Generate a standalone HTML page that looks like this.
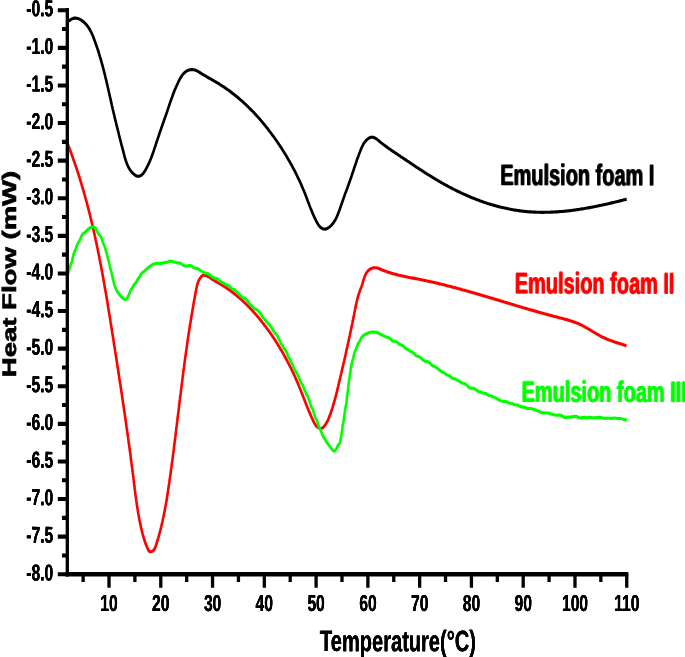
<!DOCTYPE html><html><head><meta charset="utf-8"><title>DSC thermogram</title>
<style>html,body{margin:0;padding:0;background:#fff}svg{display:block}text{font-family:"Liberation Sans",sans-serif;font-weight:bold;text-rendering:geometricPrecision}</style></head><body>
<svg width="685" height="657" viewBox="0 0 685 657">
<rect width="685" height="657" fill="#fff"/>
<defs>
<filter id="bx" filterUnits="userSpaceOnUse" x="0" y="0" width="685" height="657"><feOffset in="SourceGraphic" dx="0.22" result="a"/><feOffset in="SourceGraphic" dx="-0.22" result="b"/><feMerge><feMergeNode in="a"/><feMergeNode in="b"/><feMergeNode in="SourceGraphic"/></feMerge></filter>
<filter id="bx2" filterUnits="userSpaceOnUse" x="0" y="0" width="685" height="657"><feOffset in="SourceGraphic" dx="0.20" result="a"/><feOffset in="SourceGraphic" dx="-0.20" result="b"/><feMerge><feMergeNode in="a"/><feMergeNode in="b"/><feMergeNode in="SourceGraphic"/></feMerge></filter>
</defs>
<g fill="none" stroke-width="2.60" stroke-linejoin="round" stroke-linecap="butt" transform="scale(1,1.2)">
<path stroke="#000" d="M68.8,17.81 L69.9,16.90 L71.0,16.18 L72.1,15.66 L73.2,15.31 L74.3,15.12 L75.5,15.08 L76.6,15.18 L77.7,15.39 L78.8,15.71 L79.9,16.12 L80.9,16.62 L81.9,17.17 L82.9,17.78 L83.9,18.43 L84.7,19.11 L85.6,19.82 L86.4,20.55 L87.1,21.32 L87.8,22.10 L88.5,22.91 L89.1,23.74 L89.7,24.59 L90.3,25.45 L90.9,26.34 L91.4,27.23 L91.9,28.14 L92.4,29.06 L92.9,29.99 L93.3,30.92 L93.8,31.86 L94.2,32.81 L94.6,33.76 L95.0,34.70 L95.4,35.65 L95.8,36.60 L96.2,37.56 L96.6,38.51 L97.0,39.47 L97.4,40.42 L97.8,41.38 L98.2,42.34 L98.5,43.30 L98.9,44.26 L99.2,45.22 L99.6,46.18 L99.9,47.14 L100.3,48.11 L100.6,49.07 L101.0,50.04 L101.3,51.00 L101.6,51.97 L101.9,52.94 L102.2,53.91 L102.6,54.88 L102.9,55.85 L103.2,56.82 L103.5,57.79 L103.8,58.76 L104.1,59.73 L104.4,60.70 L104.7,61.68 L105.0,62.65 L105.2,63.62 L105.5,64.60 L105.8,65.57 L106.1,66.55 L106.4,67.52 L106.6,68.50 L106.9,69.47 L107.2,70.45 L107.5,71.42 L107.7,72.40 L108.0,73.37 L108.3,74.35 L108.5,75.33 L108.8,76.30 L109.1,77.28 L109.3,78.25 L109.6,79.23 L109.8,80.20 L110.1,81.18 L110.4,82.15 L110.6,83.13 L110.9,84.10 L111.2,85.08 L111.4,86.05 L111.7,87.02 L111.9,87.99 L112.2,88.97 L112.5,89.94 L112.7,90.91 L113.0,91.88 L113.3,92.85 L113.6,93.82 L113.8,94.79 L114.1,95.75 L114.4,96.72 L114.6,97.69 L114.9,98.66 L115.2,99.62 L115.5,100.59 L115.8,101.55 L116.1,102.52 L116.3,103.49 L116.6,104.45 L116.9,105.42 L117.2,106.39 L117.5,107.35 L117.8,108.32 L118.1,109.29 L118.4,110.26 L118.7,111.23 L118.9,112.20 L119.2,113.17 L119.5,114.15 L119.8,115.12 L120.1,116.10 L120.4,117.07 L120.7,118.05 L121.0,119.03 L121.3,120.01 L121.6,120.99 L121.9,121.98 L122.3,122.96 L122.6,123.95 L122.9,124.94 L123.2,125.93 L123.5,126.93 L123.8,127.92 L124.1,128.92 L124.4,129.91 L124.7,130.91 L125.1,131.89 L125.4,132.87 L125.8,133.84 L126.2,134.80 L126.6,135.75 L127.0,136.68 L127.5,137.60 L128.0,138.50 L128.5,139.37 L129.1,140.23 L129.7,141.06 L130.3,141.86 L131.0,142.64 L131.8,143.38 L132.5,144.10 L133.4,144.78 L134.3,145.42 L135.2,146.02 L136.2,146.52 L137.3,146.84 L138.4,146.92 L139.5,146.75 L140.6,146.37 L141.6,145.84 L142.5,145.17 L143.3,144.41 L144.1,143.57 L144.7,142.68 L145.4,141.76 L146.0,140.83 L146.6,139.91 L147.2,138.98 L147.8,138.05 L148.3,137.13 L148.8,136.20 L149.3,135.27 L149.8,134.35 L150.3,133.42 L150.7,132.50 L151.2,131.57 L151.6,130.64 L152.0,129.71 L152.4,128.78 L152.8,127.86 L153.2,126.92 L153.6,125.99 L154.0,125.06 L154.3,124.13 L154.7,123.19 L155.1,122.26 L155.5,121.32 L155.8,120.38 L156.2,119.44 L156.6,118.50 L156.9,117.55 L157.3,116.60 L157.7,115.66 L158.1,114.71 L158.5,113.76 L158.9,112.80 L159.3,111.85 L159.6,110.90 L160.0,109.94 L160.4,108.99 L160.8,108.03 L161.2,107.08 L161.6,106.12 L162.0,105.16 L162.4,104.21 L162.8,103.25 L163.2,102.30 L163.6,101.34 L164.0,100.39 L164.4,99.44 L164.8,98.49 L165.2,97.53 L165.6,96.58 L166.0,95.64 L166.4,94.69 L166.8,93.75 L167.2,92.80 L167.6,91.86 L167.9,90.92 L168.3,89.99 L168.7,89.05 L169.1,88.12 L169.5,87.18 L169.8,86.25 L170.2,85.32 L170.6,84.39 L171.0,83.46 L171.4,82.53 L171.8,81.61 L172.2,80.68 L172.6,79.75 L173.0,78.82 L173.4,77.89 L173.9,76.96 L174.3,76.03 L174.7,75.10 L175.2,74.17 L175.7,73.23 L176.2,72.30 L176.7,71.36 L177.2,70.42 L177.7,69.48 L178.2,68.53 L178.8,67.59 L179.3,66.65 L179.9,65.72 L180.6,64.81 L181.2,63.93 L181.9,63.09 L182.6,62.28 L183.4,61.52 L184.2,60.82 L185.0,60.18 L185.9,59.60 L186.9,59.11 L187.9,58.69 L188.9,58.37 L190.1,58.14 L191.2,58.01 L192.4,57.99 L193.6,58.08 L194.8,58.29 L195.9,58.62 L197.0,59.05 L198.1,59.55 L199.1,60.09 L200.2,60.64 L201.2,61.19 L202.2,61.73 L203.3,62.26 L204.3,62.78 L205.4,63.29 L206.4,63.79 L207.4,64.29 L208.5,64.79 L209.5,65.28 L210.6,65.78 L211.6,66.27 L212.6,66.76 L213.7,67.25 L214.7,67.75 L215.7,68.25 L216.7,68.75 L217.8,69.26 L218.8,69.78 L219.8,70.31 L220.8,70.84 L221.8,71.38 L222.8,71.93 L223.8,72.48 L224.8,73.05 L225.8,73.62 L226.8,74.19 L227.8,74.78 L228.8,75.37 L229.8,75.96 L230.7,76.57 L231.7,77.17 L232.6,77.79 L233.6,78.41 L234.5,79.03 L235.5,79.66 L236.4,80.30 L237.4,80.94 L238.3,81.58 L239.2,82.23 L240.1,82.89 L241.0,83.55 L241.9,84.21 L242.8,84.88 L243.7,85.56 L244.6,86.23 L245.5,86.91 L246.4,87.60 L247.2,88.29 L248.1,88.99 L248.9,89.69 L249.8,90.39 L250.6,91.10 L251.5,91.81 L252.3,92.53 L253.2,93.25 L254.0,93.97 L254.8,94.70 L255.6,95.43 L256.4,96.17 L257.2,96.91 L258.0,97.65 L258.8,98.40 L259.6,99.15 L260.4,99.90 L261.2,100.66 L262.0,101.42 L262.7,102.18 L263.5,102.95 L264.2,103.72 L265.0,104.50 L265.8,105.28 L266.5,106.06 L267.2,106.84 L268.0,107.63 L268.7,108.42 L269.4,109.22 L270.2,110.01 L270.9,110.81 L271.6,111.62 L272.3,112.42 L273.0,113.23 L273.7,114.04 L274.4,114.86 L275.1,115.68 L275.8,116.50 L276.5,117.32 L277.2,118.14 L277.9,118.97 L278.5,119.80 L279.2,120.63 L279.9,121.47 L280.5,122.31 L281.2,123.15 L281.9,123.99 L282.5,124.84 L283.1,125.68 L283.8,126.54 L284.4,127.39 L285.1,128.24 L285.7,129.10 L286.3,129.96 L286.9,130.82 L287.5,131.69 L288.1,132.55 L288.7,133.42 L289.3,134.29 L289.9,135.16 L290.5,136.04 L291.1,136.92 L291.7,137.80 L292.3,138.68 L292.8,139.56 L293.4,140.45 L294.0,141.33 L294.5,142.22 L295.1,143.11 L295.6,144.01 L296.1,144.90 L296.7,145.80 L297.2,146.70 L297.7,147.60 L298.2,148.50 L298.8,149.41 L299.3,150.31 L299.8,151.22 L300.3,152.13 L300.8,153.04 L301.3,153.96 L301.7,154.87 L302.2,155.79 L302.7,156.71 L303.1,157.63 L303.6,158.55 L304.1,159.47 L304.5,160.39 L305.0,161.32 L305.4,162.25 L305.8,163.18 L306.3,164.10 L306.7,165.04 L307.1,165.97 L307.5,166.90 L307.9,167.83 L308.4,168.76 L308.8,169.70 L309.2,170.63 L309.6,171.56 L310.1,172.50 L310.5,173.43 L311.0,174.36 L311.4,175.29 L311.9,176.22 L312.3,177.15 L312.8,178.07 L313.3,179.00 L313.8,179.92 L314.3,180.84 L314.8,181.76 L315.3,182.68 L315.9,183.59 L316.4,184.51 L317.0,185.42 L317.6,186.32 L318.3,187.20 L319.0,188.04 L319.7,188.81 L320.6,189.51 L321.6,190.11 L322.6,190.58 L323.8,190.88 L324.9,190.97 L326.0,190.82 L327.1,190.46 L328.2,189.96 L329.1,189.37 L330.1,188.73 L330.9,188.06 L331.8,187.35 L332.5,186.61 L333.3,185.84 L333.9,185.04 L334.6,184.21 L335.2,183.36 L335.8,182.49 L336.3,181.60 L336.8,180.69 L337.3,179.77 L337.8,178.83 L338.2,177.88 L338.6,176.93 L339.1,175.96 L339.5,175.00 L339.9,174.03 L340.3,173.06 L340.7,172.09 L341.1,171.13 L341.5,170.17 L341.9,169.21 L342.3,168.26 L342.7,167.31 L343.1,166.36 L343.5,165.42 L343.9,164.48 L344.3,163.54 L344.7,162.60 L345.1,161.66 L345.5,160.72 L345.9,159.79 L346.4,158.86 L346.8,157.92 L347.2,156.99 L347.6,156.06 L348.0,155.12 L348.4,154.19 L348.8,153.26 L349.2,152.33 L349.6,151.39 L350.0,150.45 L350.4,149.52 L350.8,148.58 L351.2,147.64 L351.6,146.70 L351.9,145.75 L352.3,144.81 L352.7,143.86 L353.1,142.91 L353.5,141.96 L353.9,141.00 L354.2,140.05 L354.6,139.10 L355.0,138.14 L355.4,137.19 L355.8,136.24 L356.2,135.28 L356.6,134.33 L356.9,133.38 L357.3,132.43 L357.7,131.48 L358.2,130.54 L358.6,129.59 L359.0,128.65 L359.4,127.71 L359.8,126.78 L360.3,125.84 L360.7,124.92 L361.2,123.99 L361.6,123.07 L362.1,122.16 L362.7,121.27 L363.2,120.39 L363.8,119.53 L364.5,118.69 L365.3,117.88 L366.1,117.09 L367.0,116.34 L368.0,115.62 L369.1,115.01 L370.2,114.57 L371.2,114.34 L372.3,114.31 L373.3,114.45 L374.3,114.75 L375.3,115.17 L376.3,115.69 L377.2,116.28 L378.2,116.92 L379.2,117.59 L380.2,118.25 L381.1,118.91 L382.1,119.55 L383.1,120.18 L384.1,120.80 L385.0,121.42 L386.0,122.02 L387.0,122.62 L388.0,123.21 L389.0,123.79 L390.0,124.36 L390.9,124.94 L391.9,125.50 L392.9,126.07 L393.9,126.63 L394.9,127.19 L395.9,127.74 L396.9,128.30 L397.9,128.85 L398.9,129.41 L399.9,129.97 L400.8,130.52 L401.8,131.08 L402.8,131.64 L403.8,132.20 L404.8,132.75 L405.8,133.31 L406.8,133.87 L407.8,134.42 L408.8,134.98 L409.8,135.54 L410.8,136.09 L411.8,136.65 L412.8,137.20 L413.8,137.75 L414.8,138.31 L415.7,138.86 L416.7,139.41 L417.8,139.96 L418.8,140.51 L419.8,141.05 L420.8,141.60 L421.8,142.14 L422.8,142.68 L423.8,143.23 L424.8,143.76 L425.8,144.30 L426.8,144.84 L427.8,145.37 L428.9,145.90 L429.9,146.43 L430.9,146.96 L431.9,147.48 L432.9,148.00 L434.0,148.52 L435.0,149.04 L436.0,149.56 L437.1,150.07 L438.1,150.58 L439.1,151.08 L440.2,151.58 L441.2,152.08 L442.2,152.58 L443.3,153.08 L444.3,153.57 L445.4,154.05 L446.5,154.54 L447.5,155.02 L448.6,155.49 L449.6,155.96 L450.7,156.43 L451.8,156.90 L452.8,157.36 L453.9,157.82 L455.0,158.27 L456.1,158.72 L457.1,159.16 L458.2,159.60 L459.3,160.04 L460.4,160.47 L461.5,160.90 L462.6,161.32 L463.7,161.74 L464.8,162.15 L465.9,162.56 L467.0,162.97 L468.1,163.37 L469.2,163.76 L470.3,164.15 L471.4,164.54 L472.6,164.92 L473.7,165.29 L474.8,165.67 L475.9,166.03 L477.1,166.39 L478.2,166.75 L479.3,167.10 L480.4,167.44 L481.6,167.78 L482.7,168.12 L483.9,168.45 L485.0,168.77 L486.1,169.09 L487.3,169.40 L488.4,169.71 L489.6,170.01 L490.7,170.31 L491.9,170.60 L493.0,170.88 L494.2,171.16 L495.3,171.43 L496.5,171.70 L497.7,171.96 L498.8,172.21 L500.0,172.46 L501.1,172.70 L502.3,172.94 L503.5,173.17 L504.6,173.39 L505.8,173.61 L507.0,173.82 L508.2,174.02 L509.3,174.22 L510.5,174.41 L511.7,174.59 L512.9,174.77 L514.0,174.94 L515.2,175.10 L516.4,175.26 L517.6,175.41 L518.8,175.55 L520.0,175.69 L521.1,175.82 L522.3,175.94 L523.5,176.05 L524.7,176.16 L525.9,176.26 L527.1,176.35 L528.3,176.44 L529.5,176.52 L530.7,176.59 L531.9,176.65 L533.1,176.71 L534.3,176.76 L535.5,176.81 L536.6,176.84 L537.8,176.87 L539.0,176.90 L540.2,176.92 L541.4,176.93 L542.6,176.93 L543.8,176.93 L545.0,176.92 L546.2,176.91 L547.4,176.89 L548.6,176.86 L549.8,176.83 L551.0,176.80 L552.2,176.75 L553.4,176.70 L554.6,176.65 L555.8,176.59 L557.0,176.53 L558.2,176.46 L559.4,176.38 L560.7,176.30 L561.9,176.22 L563.1,176.13 L564.3,176.03 L565.5,175.93 L566.7,175.82 L567.9,175.72 L569.1,175.60 L570.3,175.48 L571.5,175.36 L572.7,175.23 L573.9,175.10 L575.0,174.96 L576.2,174.82 L577.4,174.68 L578.6,174.53 L579.8,174.38 L581.0,174.22 L582.2,174.06 L583.4,173.90 L584.6,173.73 L585.8,173.56 L587.0,173.39 L588.2,173.21 L589.4,173.03 L590.6,172.84 L591.7,172.66 L592.9,172.46 L594.1,172.27 L595.3,172.07 L596.5,171.88 L597.7,171.67 L598.8,171.47 L600.0,171.26 L601.2,171.05 L602.4,170.84 L603.6,170.62 L604.7,170.41 L605.9,170.19 L607.1,169.97 L608.2,169.74 L609.4,169.52 L610.6,169.29 L611.7,169.06 L612.9,168.83 L614.1,168.60 L615.2,168.36 L616.4,168.13 L617.5,167.89 L618.7,167.65 L619.9,167.41 L621.0,167.17 L622.2,166.93 L623.3,166.68 L624.4,166.44 L625.6,166.19 L626.7,165.95"/>
<path stroke="#f00" d="M67.9,120.33 L68.3,121.26 L68.8,122.20 L69.2,123.14 L69.6,124.08 L70.0,125.03 L70.5,125.97 L70.9,126.91 L71.3,127.85 L71.7,128.80 L72.1,129.74 L72.5,130.69 L72.9,131.63 L73.3,132.58 L73.7,133.53 L74.1,134.48 L74.5,135.42 L74.9,136.37 L75.3,137.32 L75.7,138.27 L76.1,139.22 L76.5,140.17 L76.8,141.13 L77.2,142.08 L77.6,143.03 L78.0,143.98 L78.3,144.94 L78.7,145.89 L79.1,146.85 L79.4,147.80 L79.8,148.76 L80.1,149.72 L80.5,150.67 L80.8,151.63 L81.2,152.59 L81.5,153.55 L81.9,154.51 L82.2,155.47 L82.6,156.43 L82.9,157.39 L83.2,158.35 L83.6,159.31 L83.9,160.27 L84.2,161.24 L84.6,162.20 L84.9,163.16 L85.2,164.13 L85.5,165.09 L85.8,166.06 L86.2,167.02 L86.5,167.99 L86.8,168.96 L87.1,169.92 L87.4,170.89 L87.7,171.86 L88.0,172.83 L88.3,173.79 L88.6,174.76 L88.9,175.73 L89.2,176.70 L89.5,177.67 L89.8,178.64 L90.1,179.61 L90.4,180.59 L90.6,181.56 L90.9,182.53 L91.2,183.50 L91.5,184.48 L91.8,185.45 L92.1,186.42 L92.3,187.40 L92.6,188.37 L92.9,189.35 L93.1,190.32 L93.4,191.30 L93.7,192.27 L93.9,193.25 L94.2,194.23 L94.5,195.20 L94.7,196.18 L95.0,197.16 L95.2,198.14 L95.5,199.11 L95.7,200.09 L96.0,201.07 L96.3,202.05 L96.5,203.03 L96.7,204.01 L97.0,204.99 L97.2,205.97 L97.5,206.95 L97.7,207.93 L98.0,208.91 L98.2,209.90 L98.4,210.88 L98.7,211.86 L98.9,212.84 L99.2,213.82 L99.4,214.81 L99.6,215.79 L99.8,216.77 L100.1,217.76 L100.3,218.74 L100.5,219.72 L100.8,220.71 L101.0,221.69 L101.2,222.68 L101.4,223.66 L101.6,224.65 L101.9,225.63 L102.1,226.62 L102.3,227.60 L102.5,228.59 L102.7,229.58 L103.0,230.56 L103.2,231.55 L103.4,232.53 L103.6,233.52 L103.8,234.51 L104.0,235.49 L104.2,236.48 L104.4,237.47 L104.6,238.46 L104.8,239.44 L105.0,240.43 L105.3,241.42 L105.5,242.41 L105.7,243.40 L105.9,244.38 L106.1,245.37 L106.3,246.36 L106.5,247.35 L106.7,248.34 L106.9,249.33 L107.1,250.32 L107.3,251.31 L107.5,252.30 L107.7,253.28 L107.9,254.27 L108.1,255.26 L108.2,256.25 L108.4,257.24 L108.6,258.23 L108.8,259.22 L109.0,260.21 L109.2,261.20 L109.4,262.19 L109.6,263.18 L109.8,264.17 L110.0,265.16 L110.2,266.15 L110.4,267.14 L110.5,268.13 L110.7,269.12 L110.9,270.11 L111.1,271.10 L111.3,272.09 L111.5,273.08 L111.7,274.07 L111.9,275.06 L112.1,276.05 L112.2,277.04 L112.4,278.03 L112.6,279.02 L112.8,280.01 L113.0,281.00 L113.2,281.99 L113.4,282.98 L113.6,283.97 L113.7,284.96 L113.9,285.95 L114.1,286.94 L114.3,287.93 L114.5,288.92 L114.7,289.91 L114.9,290.90 L115.0,291.89 L115.2,292.88 L115.4,293.87 L115.6,294.86 L115.8,295.84 L116.0,296.83 L116.2,297.82 L116.3,298.81 L116.5,299.80 L116.7,300.79 L116.9,301.78 L117.1,302.77 L117.3,303.76 L117.4,304.75 L117.6,305.74 L117.8,306.73 L118.0,307.72 L118.2,308.71 L118.4,309.70 L118.5,310.69 L118.7,311.68 L118.9,312.67 L119.1,313.65 L119.3,314.64 L119.4,315.63 L119.6,316.62 L119.8,317.61 L120.0,318.60 L120.2,319.59 L120.4,320.58 L120.5,321.57 L120.7,322.56 L120.9,323.55 L121.1,324.54 L121.2,325.53 L121.4,326.52 L121.6,327.51 L121.8,328.50 L122.0,329.49 L122.1,330.48 L122.3,331.47 L122.5,332.46 L122.7,333.45 L122.8,334.44 L123.0,335.43 L123.2,336.42 L123.4,337.41 L123.5,338.40 L123.7,339.39 L123.9,340.38 L124.1,341.37 L124.2,342.36 L124.4,343.35 L124.6,344.34 L124.8,345.33 L124.9,346.32 L125.1,347.31 L125.3,348.30 L125.5,349.30 L125.6,350.29 L125.8,351.28 L126.0,352.27 L126.1,353.26 L126.3,354.25 L126.5,355.24 L126.6,356.23 L126.8,357.22 L127.0,358.22 L127.1,359.21 L127.3,360.20 L127.5,361.19 L127.6,362.18 L127.8,363.17 L128.0,364.17 L128.1,365.16 L128.3,366.15 L128.5,367.14 L128.6,368.14 L128.8,369.13 L129.0,370.12 L129.1,371.11 L129.3,372.11 L129.5,373.10 L129.6,374.09 L129.8,375.08 L129.9,376.08 L130.1,377.07 L130.3,378.06 L130.4,379.06 L130.6,380.05 L130.7,381.05 L130.9,382.04 L131.0,383.03 L131.2,384.03 L131.4,385.02 L131.5,386.02 L131.7,387.01 L131.8,388.00 L132.0,389.00 L132.1,389.99 L132.3,390.99 L132.4,391.98 L132.6,392.98 L132.7,393.97 L132.9,394.97 L133.1,395.96 L133.2,396.96 L133.4,397.96 L133.5,398.95 L133.7,399.95 L133.8,400.94 L133.9,401.94 L134.1,402.94 L134.2,403.93 L134.4,404.93 L134.5,405.93 L134.7,406.92 L134.8,407.92 L135.0,408.91 L135.1,409.91 L135.3,410.91 L135.4,411.90 L135.6,412.90 L135.8,413.89 L135.9,414.88 L136.1,415.88 L136.2,416.87 L136.4,417.86 L136.6,418.86 L136.7,419.85 L136.9,420.84 L137.1,421.83 L137.3,422.82 L137.5,423.81 L137.7,424.79 L137.8,425.78 L138.0,426.77 L138.2,427.75 L138.4,428.74 L138.7,429.72 L138.9,430.70 L139.1,431.68 L139.3,432.66 L139.5,433.64 L139.8,434.62 L140.0,435.60 L140.3,436.57 L140.5,437.54 L140.8,438.52 L141.0,439.49 L141.3,440.46 L141.6,441.43 L141.9,442.39 L142.1,443.36 L142.4,444.32 L142.7,445.28 L143.1,446.25 L143.4,447.21 L143.7,448.17 L144.1,449.13 L144.4,450.09 L144.8,451.05 L145.2,452.01 L145.6,452.97 L146.1,453.93 L146.5,454.90 L147.0,455.87 L147.5,456.84 L148.1,457.81 L148.6,458.76 L149.4,459.48 L150.4,459.74 L151.5,459.61 L152.5,459.27 L153.3,458.77 L154.0,458.12 L154.6,457.34 L155.1,456.48 L155.5,455.55 L155.9,454.58 L156.3,453.59 L156.7,452.61 L157.1,451.62 L157.4,450.64 L157.8,449.65 L158.1,448.66 L158.5,447.68 L158.8,446.69 L159.1,445.71 L159.4,444.73 L159.8,443.74 L160.1,442.76 L160.4,441.78 L160.7,440.79 L161.0,439.81 L161.3,438.83 L161.5,437.84 L161.8,436.86 L162.1,435.88 L162.4,434.90 L162.6,433.92 L162.9,432.93 L163.1,431.95 L163.4,430.97 L163.6,429.99 L163.9,429.01 L164.1,428.02 L164.3,427.04 L164.6,426.06 L164.8,425.08 L165.0,424.10 L165.2,423.12 L165.4,422.13 L165.7,421.15 L165.9,420.17 L166.1,419.19 L166.3,418.21 L166.5,417.22 L166.7,416.24 L166.9,415.26 L167.1,414.27 L167.2,413.29 L167.4,412.31 L167.6,411.32 L167.8,410.34 L168.0,409.36 L168.2,408.37 L168.3,407.39 L168.5,406.40 L168.7,405.42 L168.9,404.43 L169.0,403.44 L169.2,402.46 L169.4,401.47 L169.5,400.48 L169.7,399.50 L169.9,398.51 L170.1,397.52 L170.2,396.53 L170.4,395.54 L170.6,394.55 L170.7,393.56 L170.9,392.57 L171.0,391.58 L171.2,390.59 L171.4,389.60 L171.5,388.61 L171.7,387.62 L171.8,386.63 L172.0,385.63 L172.2,384.64 L172.3,383.65 L172.5,382.66 L172.6,381.66 L172.8,380.67 L172.9,379.68 L173.1,378.68 L173.3,377.69 L173.4,376.69 L173.6,375.70 L173.7,374.71 L173.9,373.71 L174.0,372.72 L174.2,371.72 L174.3,370.73 L174.5,369.73 L174.6,368.73 L174.8,367.74 L174.9,366.74 L175.1,365.75 L175.2,364.75 L175.4,363.76 L175.5,362.76 L175.7,361.76 L175.8,360.77 L175.9,359.77 L176.1,358.77 L176.2,357.78 L176.4,356.78 L176.5,355.78 L176.7,354.79 L176.8,353.79 L177.0,352.79 L177.1,351.80 L177.3,350.80 L177.4,349.80 L177.5,348.81 L177.7,347.81 L177.8,346.81 L178.0,345.82 L178.1,344.82 L178.3,343.82 L178.4,342.83 L178.6,341.83 L178.7,340.83 L178.9,339.84 L179.0,338.84 L179.1,337.84 L179.3,336.85 L179.4,335.85 L179.6,334.86 L179.7,333.86 L179.9,332.86 L180.0,331.87 L180.2,330.87 L180.3,329.88 L180.5,328.88 L180.6,327.89 L180.8,326.89 L180.9,325.90 L181.1,324.90 L181.2,323.91 L181.4,322.91 L181.5,321.92 L181.7,320.93 L181.8,319.93 L182.0,318.94 L182.1,317.94 L182.3,316.95 L182.4,315.96 L182.6,314.97 L182.7,313.97 L182.9,312.98 L183.0,311.99 L183.2,311.00 L183.3,310.00 L183.5,309.01 L183.6,308.02 L183.8,307.03 L184.0,306.04 L184.1,305.05 L184.3,304.05 L184.4,303.06 L184.6,302.07 L184.7,301.08 L184.9,300.09 L185.1,299.10 L185.2,298.11 L185.4,297.12 L185.6,296.13 L185.7,295.14 L185.9,294.15 L186.1,293.16 L186.2,292.17 L186.4,291.18 L186.6,290.19 L186.7,289.20 L186.9,288.21 L187.1,287.22 L187.2,286.23 L187.4,285.24 L187.6,284.25 L187.8,283.26 L187.9,282.27 L188.1,281.28 L188.3,280.29 L188.5,279.30 L188.6,278.31 L188.8,277.32 L189.0,276.34 L189.2,275.35 L189.4,274.36 L189.6,273.37 L189.7,272.38 L189.9,271.39 L190.1,270.40 L190.3,269.41 L190.5,268.42 L190.7,267.43 L190.9,266.44 L191.1,265.45 L191.3,264.47 L191.5,263.48 L191.7,262.49 L191.9,261.50 L192.1,260.51 L192.3,259.52 L192.5,258.53 L192.7,257.54 L192.9,256.55 L193.1,255.56 L193.3,254.57 L193.5,253.58 L193.7,252.59 L193.9,251.60 L194.1,250.61 L194.3,249.62 L194.6,248.63 L194.8,247.64 L195.0,246.65 L195.2,245.66 L195.4,244.67 L195.7,243.68 L195.9,242.69 L196.1,241.70 L196.3,240.71 L196.6,239.73 L196.8,238.75 L197.1,237.78 L197.5,236.82 L197.8,235.87 L198.2,234.93 L198.7,234.02 L199.2,233.12 L199.8,232.24 L200.5,231.39 L201.2,230.61 L202.0,229.96 L202.9,229.49 L203.8,229.26 L204.8,229.27 L205.9,229.49 L207.0,229.88 L208.1,230.39 L209.3,231.00 L210.4,231.65 L211.6,232.32 L212.7,232.95 L213.8,233.54 L214.8,234.07 L215.9,234.57 L216.9,235.05 L217.9,235.52 L218.9,235.99 L219.9,236.46 L220.9,236.95 L221.9,237.45 L222.9,237.96 L223.9,238.49 L224.9,239.02 L225.8,239.57 L226.8,240.12 L227.8,240.68 L228.8,241.26 L229.8,241.84 L230.7,242.43 L231.7,243.03 L232.7,243.64 L233.6,244.26 L234.6,244.88 L235.5,245.52 L236.5,246.16 L237.4,246.80 L238.3,247.46 L239.3,248.12 L240.2,248.78 L241.1,249.46 L242.0,250.13 L242.9,250.82 L243.8,251.51 L244.6,252.20 L245.5,252.90 L246.4,253.60 L247.2,254.31 L248.1,255.02 L248.9,255.74 L249.7,256.46 L250.6,257.18 L251.4,257.91 L252.2,258.65 L253.0,259.38 L253.8,260.13 L254.6,260.87 L255.4,261.62 L256.2,262.38 L256.9,263.13 L257.7,263.89 L258.5,264.66 L259.2,265.43 L260.0,266.20 L260.7,266.98 L261.5,267.76 L262.2,268.54 L263.0,269.33 L263.7,270.11 L264.4,270.91 L265.2,271.70 L265.9,272.50 L266.6,273.31 L267.3,274.11 L268.0,274.92 L268.7,275.73 L269.4,276.55 L270.1,277.37 L270.8,278.19 L271.5,279.01 L272.1,279.84 L272.8,280.67 L273.5,281.51 L274.1,282.34 L274.8,283.18 L275.5,284.02 L276.1,284.87 L276.8,285.71 L277.4,286.56 L278.0,287.42 L278.7,288.27 L279.3,289.13 L279.9,289.99 L280.5,290.85 L281.1,291.71 L281.8,292.58 L282.4,293.45 L283.0,294.32 L283.6,295.20 L284.1,296.07 L284.7,296.95 L285.3,297.83 L285.9,298.71 L286.5,299.60 L287.0,300.48 L287.6,301.37 L288.1,302.26 L288.7,303.16 L289.2,304.05 L289.8,304.95 L290.3,305.84 L290.9,306.74 L291.4,307.65 L291.9,308.55 L292.4,309.45 L293.0,310.36 L293.5,311.27 L294.0,312.18 L294.5,313.09 L295.0,314.00 L295.5,314.91 L296.0,315.83 L296.4,316.75 L296.9,317.66 L297.4,318.58 L297.9,319.50 L298.3,320.42 L298.8,321.35 L299.2,322.27 L299.7,323.20 L300.1,324.12 L300.6,325.05 L301.0,325.97 L301.5,326.90 L301.9,327.83 L302.3,328.76 L302.8,329.69 L303.2,330.62 L303.6,331.55 L304.1,332.48 L304.5,333.41 L305.0,334.34 L305.4,335.27 L305.8,336.20 L306.3,337.13 L306.7,338.05 L307.2,338.98 L307.6,339.91 L308.1,340.84 L308.5,341.76 L309.0,342.69 L309.4,343.61 L309.9,344.54 L310.4,345.46 L310.9,346.38 L311.4,347.30 L311.8,348.22 L312.3,349.13 L312.9,350.05 L313.4,350.96 L313.9,351.87 L314.5,352.76 L315.1,353.62 L315.8,354.43 L316.5,355.18 L317.4,355.84 L318.4,356.40 L319.6,356.84 L320.8,357.02 L321.9,356.86 L322.9,356.38 L323.7,355.69 L324.5,354.87 L325.3,354.02 L325.9,353.15 L326.6,352.28 L327.1,351.39 L327.7,350.49 L328.2,349.59 L328.7,348.67 L329.1,347.75 L329.5,346.83 L330.0,345.90 L330.4,344.96 L330.8,344.03 L331.2,343.09 L331.5,342.15 L331.9,341.20 L332.3,340.25 L332.6,339.30 L333.0,338.35 L333.3,337.39 L333.7,336.43 L334.0,335.47 L334.3,334.51 L334.7,333.54 L335.0,332.58 L335.3,331.61 L335.6,330.64 L335.9,329.67 L336.2,328.69 L336.5,327.72 L336.8,326.75 L337.1,325.77 L337.4,324.79 L337.7,323.82 L337.9,322.84 L338.2,321.86 L338.5,320.89 L338.8,319.91 L339.0,318.93 L339.3,317.95 L339.6,316.98 L339.9,316.00 L340.2,315.02 L340.4,314.04 L340.7,313.07 L341.0,312.09 L341.3,311.11 L341.5,310.14 L341.8,309.16 L342.1,308.19 L342.3,307.21 L342.6,306.23 L342.9,305.26 L343.2,304.28 L343.4,303.31 L343.7,302.33 L344.0,301.35 L344.2,300.38 L344.5,299.40 L344.8,298.43 L345.0,297.45 L345.3,296.48 L345.6,295.50 L345.8,294.52 L346.1,293.55 L346.3,292.57 L346.6,291.60 L346.9,290.62 L347.1,289.64 L347.4,288.67 L347.6,287.69 L347.9,286.71 L348.2,285.74 L348.4,284.76 L348.7,283.78 L348.9,282.81 L349.2,281.83 L349.4,280.85 L349.7,279.87 L349.9,278.89 L350.2,277.92 L350.4,276.94 L350.7,275.96 L350.9,274.98 L351.2,274.00 L351.4,273.02 L351.7,272.04 L351.9,271.06 L352.2,270.08 L352.4,269.10 L352.6,268.12 L352.9,267.14 L353.1,266.15 L353.4,265.17 L353.6,264.19 L353.8,263.20 L354.1,262.22 L354.3,261.24 L354.5,260.25 L354.8,259.27 L355.0,258.28 L355.2,257.30 L355.5,256.31 L355.7,255.33 L356.0,254.35 L356.2,253.37 L356.5,252.39 L356.7,251.41 L357.0,250.44 L357.3,249.47 L357.6,248.50 L357.9,247.54 L358.2,246.58 L358.6,245.63 L358.9,244.69 L359.3,243.74 L359.7,242.81 L360.1,241.88 L360.5,240.95 L360.9,240.01 L361.4,239.07 L361.8,238.13 L362.2,237.17 L362.5,236.20 L362.9,235.22 L363.2,234.23 L363.6,233.24 L363.9,232.25 L364.3,231.28 L364.7,230.33 L365.2,229.40 L365.7,228.50 L366.2,227.64 L366.9,226.82 L367.7,226.05 L368.5,225.34 L369.5,224.69 L370.5,224.13 L371.5,223.68 L372.6,223.35 L373.8,223.15 L374.9,223.10 L376.0,223.18 L377.1,223.37 L378.3,223.64 L379.4,223.97 L380.5,224.35 L381.7,224.74 L382.8,225.14 L384.0,225.52 L385.1,225.88 L386.3,226.24 L387.4,226.57 L388.6,226.90 L389.7,227.21 L390.9,227.52 L392.0,227.81 L393.2,228.09 L394.4,228.36 L395.5,228.62 L396.7,228.87 L397.9,229.12 L399.0,229.36 L400.2,229.59 L401.4,229.81 L402.5,230.03 L403.7,230.24 L404.9,230.44 L406.1,230.65 L407.2,230.84 L408.4,231.04 L409.6,231.23 L410.8,231.42 L411.9,231.61 L413.1,231.80 L414.3,231.99 L415.5,232.17 L416.6,232.36 L417.8,232.55 L419.0,232.74 L420.2,232.93 L421.3,233.13 L422.5,233.33 L423.7,233.53 L424.9,233.73 L426.0,233.94 L427.2,234.15 L428.4,234.36 L429.6,234.57 L430.7,234.79 L431.9,235.01 L433.1,235.23 L434.2,235.45 L435.4,235.68 L436.6,235.90 L437.8,236.13 L438.9,236.37 L440.1,236.60 L441.3,236.84 L442.4,237.08 L443.6,237.32 L444.8,237.56 L445.9,237.80 L447.1,238.05 L448.3,238.30 L449.4,238.54 L450.6,238.80 L451.8,239.05 L452.9,239.30 L454.1,239.56 L455.3,239.82 L456.4,240.08 L457.6,240.34 L458.7,240.60 L459.9,240.86 L461.1,241.13 L462.2,241.40 L463.4,241.66 L464.5,241.93 L465.7,242.20 L466.9,242.47 L468.0,242.75 L469.2,243.02 L470.3,243.29 L471.5,243.57 L472.7,243.84 L473.8,244.12 L475.0,244.40 L476.1,244.68 L477.3,244.96 L478.4,245.24 L479.6,245.52 L480.7,245.80 L481.9,246.09 L483.0,246.37 L484.2,246.65 L485.4,246.94 L486.5,247.22 L487.7,247.51 L488.8,247.79 L490.0,248.08 L491.1,248.37 L492.3,248.65 L493.4,248.94 L494.6,249.23 L495.7,249.52 L496.9,249.81 L498.0,250.09 L499.2,250.38 L500.3,250.67 L501.5,250.96 L502.6,251.25 L503.8,251.54 L504.9,251.83 L506.1,252.11 L507.2,252.40 L508.4,252.69 L509.5,252.98 L510.7,253.27 L511.8,253.56 L513.0,253.84 L514.1,254.13 L515.3,254.42 L516.4,254.71 L517.6,254.99 L518.7,255.28 L519.9,255.56 L521.0,255.85 L522.2,256.13 L523.3,256.42 L524.5,256.70 L525.6,256.98 L526.8,257.26 L527.9,257.54 L529.1,257.83 L530.2,258.10 L531.4,258.38 L532.6,258.66 L533.7,258.94 L534.9,259.22 L536.0,259.49 L537.2,259.77 L538.3,260.04 L539.5,260.31 L540.6,260.58 L541.8,260.85 L543.0,261.12 L544.1,261.39 L545.3,261.66 L546.4,261.92 L547.6,262.18 L548.8,262.45 L549.9,262.71 L551.1,262.97 L552.2,263.23 L553.4,263.48 L554.6,263.74 L555.7,263.99 L556.9,264.25 L558.1,264.50 L559.2,264.75 L560.4,265.00 L561.6,265.25 L562.7,265.50 L563.9,265.76 L565.1,266.02 L566.2,266.28 L567.4,266.55 L568.5,266.83 L569.7,267.12 L570.8,267.41 L572.0,267.72 L573.1,268.03 L574.2,268.36 L575.3,268.71 L576.5,269.06 L577.6,269.43 L578.7,269.82 L579.7,270.23 L580.8,270.65 L581.9,271.09 L583.0,271.55 L584.0,272.02 L585.1,272.50 L586.1,273.00 L587.2,273.50 L588.2,274.01 L589.3,274.53 L590.3,275.05 L591.3,275.58 L592.4,276.10 L593.4,276.63 L594.4,277.15 L595.5,277.67 L596.5,278.18 L597.6,278.68 L598.6,279.18 L599.7,279.67 L600.7,280.14 L601.8,280.60 L602.9,281.05 L604.0,281.47 L605.1,281.89 L606.2,282.29 L607.3,282.68 L608.4,283.05 L609.5,283.42 L610.6,283.77 L611.8,284.12 L612.9,284.45 L614.0,284.78 L615.2,285.10 L616.3,285.42 L617.4,285.74 L618.6,286.04 L619.7,286.35 L620.9,286.66 L622.0,286.96 L623.2,287.27 L624.3,287.57 L625.4,287.88 L626.6,288.19"/>
<path stroke="#0f0" d="M67.6,229.64 L68.0,228.42 L68.4,227.10 L68.7,225.73 L69.1,224.83 L69.5,223.96 L69.8,223.16 L70.1,222.16 L70.5,221.12 L70.8,220.15 L71.2,219.32 L71.5,218.82 L71.8,218.17 L72.2,217.28 L72.5,215.93 L72.8,214.51 L73.2,213.34 L73.5,212.31 L73.9,211.46 L74.3,210.38 L74.6,209.59 L75.0,208.89 L75.4,208.23 L75.9,207.15 L76.3,205.99 L76.7,204.98 L77.2,204.17 L77.7,203.26 L78.2,202.35 L78.7,201.70 L79.3,201.05 L79.9,200.20 L80.5,198.88 L81.1,197.56 L81.7,196.33 L82.4,195.35 L83.1,194.79 L83.9,194.36 L84.7,193.91 L85.5,193.15 L86.4,192.33 L87.3,191.61 L88.3,190.87 L89.3,190.19 L90.4,189.67 L91.6,189.41 L92.7,189.19 L93.8,189.20 L94.8,189.55 L95.6,190.56 L96.4,191.80 L97.2,193.04 L97.9,194.09 L98.5,194.84 L99.1,195.58 L99.7,195.97 L100.3,196.61 L100.8,197.03 L101.3,198.01 L101.8,199.10 L102.3,200.59 L102.8,201.88 L103.2,202.83 L103.7,203.66 L104.1,204.30 L104.5,205.08 L104.9,205.86 L105.2,206.95 L105.6,208.08 L106.0,209.23 L106.3,210.05 L106.6,211.11 L107.0,212.10 L107.3,213.35 L107.6,214.26 L107.9,215.19 L108.1,215.87 L108.4,216.71 L108.7,217.44 L109.0,218.49 L109.2,219.41 L109.5,220.51 L109.8,221.47 L110.0,222.54 L110.3,223.64 L110.6,224.66 L110.8,225.26 L111.1,225.71 L111.4,226.27 L111.6,227.40 L111.9,228.62 L112.2,229.88 L112.5,230.93 L112.8,232.05 L113.1,233.11 L113.4,234.14 L113.7,235.07 L114.0,236.10 L114.4,237.31 L114.8,238.43 L115.2,239.22 L115.6,239.83 L116.1,240.74 L116.6,241.86 L117.1,242.91 L117.7,243.55 L118.4,244.21 L119.1,245.04 L119.9,246.04 L120.7,246.92 L121.6,247.63 L122.5,248.33 L123.4,248.90 L124.3,249.39 L125.2,249.50 L126.0,249.44 L126.7,248.92 L127.4,248.21 L128.0,247.13 L128.6,246.18 L129.2,244.95 L129.8,243.72 L130.4,242.42 L130.9,241.46 L131.5,240.80 L132.1,240.19 L132.7,239.44 L133.2,238.50 L133.8,237.52 L134.4,236.84 L135.1,236.35 L135.7,235.85 L136.3,235.01 L137.0,233.91 L137.7,232.85 L138.4,231.94 L139.1,231.13 L139.8,230.23 L140.5,229.14 L141.3,228.13 L142.0,227.40 L142.8,227.02 L143.6,226.54 L144.5,225.97 L145.3,225.17 L146.2,224.51 L147.1,223.83 L148.0,223.26 L149.0,222.61 L149.9,222.01 L150.9,221.30 L151.9,220.79 L153.0,220.22 L154.1,220.01 L155.2,219.71 L156.3,219.59 L157.5,219.36 L158.8,219.41 L160.0,219.44 L161.2,219.51 L162.5,219.25 L163.7,218.91 L164.9,218.72 L166.1,218.61 L167.2,218.53 L168.4,218.15 L169.5,217.74 L170.7,217.62 L171.8,217.70 L173.0,218.07 L174.1,218.30 L175.2,218.52 L176.4,218.77 L177.6,218.95 L178.7,219.14 L179.9,219.23 L181.1,219.63 L182.2,220.23 L183.4,221.00 L184.6,221.52 L185.7,221.79 L186.9,221.74 L188.0,221.51 L189.2,221.35 L190.3,221.29 L191.5,221.69 L192.6,222.28 L193.7,223.00 L194.8,223.45 L196.0,223.58 L197.1,223.72 L198.2,224.01 L199.3,224.68 L200.4,225.26 L201.5,225.93 L202.6,226.49 L203.7,227.18 L204.8,227.50 L205.9,227.63 L207.0,227.73 L208.1,228.10 L209.1,228.68 L210.2,229.31 L211.3,230.01 L212.3,230.71 L213.4,231.28 L214.5,231.65 L215.5,231.84 L216.6,232.07 L217.6,232.52 L218.6,233.11 L219.7,233.97 L220.7,234.51 L221.7,235.12 L222.7,235.43 L223.8,235.98 L224.8,236.49 L225.8,236.96 L226.8,237.36 L227.8,237.71 L228.8,238.14 L229.8,238.81 L230.7,239.54 L231.7,240.51 L232.7,240.92 L233.7,241.36 L234.6,241.49 L235.6,242.22 L236.5,243.03 L237.5,243.95 L238.4,244.68 L239.4,245.25 L240.3,246.01 L241.2,246.83 L242.2,247.69 L243.1,248.08 L244.0,248.43 L244.9,248.64 L245.8,249.18 L246.7,249.93 L247.6,251.03 L248.5,252.19 L249.4,253.03 L250.3,253.74 L251.1,254.38 L252.0,255.23 L252.9,255.94 L253.7,256.62 L254.6,257.19 L255.4,257.53 L256.2,257.86 L257.1,258.09 L257.9,258.75 L258.7,259.52 L259.5,260.34 L260.3,261.06 L261.1,262.01 L261.9,263.15 L262.7,264.32 L263.5,265.12 L264.2,265.74 L265.0,266.40 L265.8,267.10 L266.5,268.04 L267.3,268.70 L268.0,269.48 L268.7,269.98 L269.5,270.70 L270.2,271.42 L270.9,272.19 L271.6,273.19 L272.3,274.11 L273.0,275.26 L273.7,276.04 L274.3,276.91 L275.0,277.41 L275.6,278.06 L276.3,278.54 L276.9,279.44 L277.6,280.33 L278.2,281.47 L278.8,282.33 L279.4,283.36 L280.0,284.45 L280.6,285.68 L281.2,286.60 L281.8,287.18 L282.4,287.85 L283.0,288.85 L283.5,289.90 L284.1,290.65 L284.6,290.98 L285.2,291.46 L285.7,292.00 L286.3,292.94 L286.8,293.87 L287.4,295.16 L287.9,296.38 L288.5,297.61 L289.0,298.35 L289.5,298.90 L290.0,299.66 L290.6,300.66 L291.1,301.71 L291.6,302.43 L292.2,303.23 L292.7,304.19 L293.2,305.42 L293.7,306.53 L294.3,307.66 L294.8,308.43 L295.3,309.18 L295.9,309.78 L296.4,310.48 L296.9,311.23 L297.5,311.88 L298.0,312.86 L298.5,313.65 L299.1,314.93 L299.6,316.03 L300.1,317.50 L300.7,318.54 L301.2,319.40 L301.7,319.78 L302.2,320.15 L302.7,320.86 L303.3,322.05 L303.8,323.46 L304.3,324.67 L304.8,325.54 L305.3,326.27 L305.8,327.09 L306.2,328.13 L306.7,329.02 L307.2,329.62 L307.6,330.15 L308.1,331.11 L308.5,332.20 L309.0,333.34 L309.4,334.03 L309.9,334.93 L310.3,335.92 L310.7,337.45 L311.1,338.62 L311.6,339.55 L312.0,339.80 L312.4,340.41 L312.8,341.10 L313.2,342.34 L313.6,343.43 L314.0,344.57 L314.5,345.70 L314.9,346.81 L315.3,347.91 L315.7,348.59 L316.1,349.17 L316.6,349.68 L317.0,350.63 L317.4,351.80 L317.9,353.21 L318.3,354.31 L318.8,355.29 L319.2,355.98 L319.7,356.83 L320.2,357.76 L320.7,358.73 L321.2,359.78 L321.7,360.69 L322.2,361.81 L322.7,362.66 L323.2,363.74 L323.8,364.44 L324.3,365.32 L324.9,365.86 L325.5,366.76 L326.1,367.66 L326.7,368.67 L327.3,369.39 L328.0,369.86 L328.6,370.50 L329.3,371.22 L330.0,372.23 L330.7,372.97 L331.4,373.82 L332.2,374.51 L332.9,375.34 L333.7,375.83 L334.5,375.90 L335.2,375.38 L336.0,374.56 L336.7,373.46 L337.3,372.35 L337.9,371.23 L338.5,370.63 L339.0,370.27 L339.4,369.92 L339.8,369.15 L340.2,367.88 L340.5,366.51 L340.8,365.28 L341.0,364.51 L341.2,363.70 L341.4,362.77 L341.5,361.61 L341.7,360.78 L341.8,359.99 L342.0,359.13 L342.2,357.80 L342.4,356.41 L342.5,355.14 L342.7,354.22 L342.9,353.48 L343.1,352.87 L343.3,352.16 L343.5,351.20 L343.7,350.08 L343.9,348.79 L344.0,347.67 L344.2,346.66 L344.4,345.82 L344.6,344.77 L344.8,343.52 L345.0,342.17 L345.2,341.02 L345.4,339.96 L345.6,339.10 L345.8,338.49 L345.9,337.95 L346.1,337.27 L346.3,336.26 L346.5,335.17 L346.6,333.98 L346.8,332.73 L346.9,331.65 L347.1,330.53 L347.2,329.49 L347.4,328.41 L347.5,327.71 L347.7,327.24 L347.8,326.56 L347.9,325.69 L348.1,324.52 L348.2,323.39 L348.3,322.10 L348.5,320.83 L348.6,319.81 L348.8,318.82 L348.9,318.05 L349.1,317.09 L349.2,316.20 L349.4,315.15 L349.6,314.12 L349.7,313.10 L349.9,312.12 L350.1,311.09 L350.3,310.05 L350.5,308.83 L350.7,307.57 L350.9,306.34 L351.1,305.48 L351.3,304.77 L351.6,304.10 L351.8,302.96 L352.1,301.80 L352.4,300.72 L352.6,300.09 L352.9,299.42 L353.2,298.50 L353.6,297.25 L353.9,295.99 L354.2,294.78 L354.6,293.72 L355.0,292.77 L355.4,292.05 L355.8,291.46 L356.2,290.73 L356.6,289.70 L357.1,288.50 L357.6,287.29 L358.0,286.45 L358.5,285.72 L359.1,285.21 L359.6,284.40 L360.2,283.35 L360.8,282.19 L361.4,281.30 L362.1,280.70 L362.9,280.06 L363.8,279.34 L364.8,278.70 L365.8,278.33 L366.9,277.91 L368.0,277.53 L369.2,277.05 L370.4,276.85 L371.6,276.77 L372.8,276.78 L374.0,276.62 L375.1,276.75 L376.3,276.85 L377.4,277.41 L378.5,277.62 L379.6,278.13 L380.7,278.54 L381.8,279.12 L382.9,279.62 L383.9,279.97 L385.0,280.37 L386.1,280.64 L387.1,280.96 L388.2,281.26 L389.2,281.75 L390.3,282.38 L391.3,283.20 L392.4,283.87 L393.4,284.39 L394.5,284.48 L395.5,284.52 L396.6,284.75 L397.6,285.43 L398.7,286.19 L399.7,286.91 L400.8,287.31 L401.8,287.70 L402.8,287.94 L403.9,288.69 L404.9,289.62 L405.9,290.54 L406.9,290.98 L408.0,291.30 L409.0,291.89 L410.0,292.54 L411.0,293.04 L412.0,293.31 L413.0,293.73 L414.0,294.50 L415.0,295.52 L416.0,296.37 L416.9,296.82 L417.9,296.91 L418.9,297.15 L419.9,297.66 L420.9,298.40 L421.9,299.15 L422.9,299.89 L423.9,300.51 L424.8,300.98 L425.8,301.11 L426.8,301.22 L427.8,301.44 L428.8,301.89 L429.8,302.56 L430.8,303.33 L431.8,304.26 L432.9,304.90 L433.9,305.27 L434.9,305.47 L435.9,306.04 L436.9,306.71 L438.0,307.51 L439.0,307.97 L440.0,308.69 L441.0,309.28 L442.1,309.96 L443.1,310.32 L444.1,310.80 L445.2,311.33 L446.2,311.97 L447.3,312.41 L448.3,312.67 L449.4,313.11 L450.4,313.85 L451.5,314.76 L452.5,315.33 L453.6,315.50 L454.6,315.58 L455.7,315.89 L456.7,316.42 L457.8,316.97 L458.9,317.41 L459.9,318.04 L461.0,318.59 L462.1,319.17 L463.1,319.35 L464.2,319.68 L465.3,319.93 L466.4,320.60 L467.4,321.56 L468.5,322.59 L469.6,323.29 L470.7,323.46 L471.8,323.46 L472.9,323.57 L474.0,323.68 L475.0,324.19 L476.1,324.73 L477.2,325.62 L478.3,326.03 L479.4,326.40 L480.5,326.59 L481.6,327.07 L482.7,327.44 L483.8,327.65 L484.9,327.80 L486.0,328.08 L487.1,328.71 L488.3,329.29 L489.4,329.65 L490.5,329.86 L491.6,330.10 L492.7,330.58 L493.8,330.94 L494.9,331.34 L496.1,331.76 L497.2,332.37 L498.3,332.92 L499.4,333.36 L500.6,333.83 L501.7,334.23 L502.8,334.48 L504.0,334.45 L505.1,334.45 L506.2,334.65 L507.4,335.15 L508.5,335.62 L509.6,335.99 L510.8,336.06 L511.9,336.32 L513.0,336.56 L514.2,337.09 L515.3,337.29 L516.5,337.54 L517.6,337.58 L518.8,338.00 L519.9,338.47 L521.1,339.07 L522.2,339.23 L523.4,339.23 L524.5,339.25 L525.7,339.74 L526.8,340.23 L528.0,340.52 L529.2,340.41 L530.3,340.45 L531.5,340.54 L532.7,340.82 L533.8,341.14 L535.0,341.52 L536.2,341.91 L537.3,342.18 L538.5,342.68 L539.7,343.09 L540.8,343.60 L542.0,343.85 L543.2,344.11 L544.4,344.13 L545.5,344.04 L546.7,344.13 L547.9,344.14 L549.1,344.46 L550.2,344.49 L551.4,344.92 L552.6,345.19 L553.8,345.66 L555.0,345.83 L556.2,346.03 L557.4,345.93 L558.5,345.96 L559.7,345.89 L560.9,346.23 L562.1,346.56 L563.3,347.23 L564.5,347.66 L565.7,348.04 L566.9,347.81 L568.1,347.75 L569.3,347.44 L570.5,347.56 L571.7,347.36 L572.8,347.38 L574.0,347.01 L575.2,346.88 L576.4,346.99 L577.6,347.42 L578.8,347.89 L580.0,348.12 L581.2,348.25 L582.4,348.02 L583.6,347.86 L584.8,347.78 L586.0,348.12 L587.2,348.19 L588.4,347.95 L589.6,347.75 L590.8,347.85 L592.0,348.22 L593.2,348.17 L594.4,348.13 L595.6,348.02 L596.8,348.13 L598.0,347.93 L599.2,347.77 L600.4,347.78 L601.6,348.09 L602.9,348.46 L604.1,348.59 L605.3,348.62 L606.5,348.52 L607.7,348.48 L608.9,348.49 L610.1,348.60 L611.3,348.68 L612.5,348.60 L613.7,348.46 L614.8,348.48 L616.0,348.59 L617.2,348.80 L618.4,348.76 L619.6,348.75 L620.8,348.78 L622.0,349.02 L623.2,349.35 L624.4,349.54 L625.6,349.85 L626.8,349.93"/>
</g>
<g stroke="#000" fill="none">
<path stroke-width="3.3" d="M67.3,8.1 V576.5 M83.11,574.3 V582.1 M109.00,574.3 V587.8 M134.89,574.3 V582.1 M160.78,574.3 V587.8 M186.66,574.3 V582.1 M212.55,574.3 V587.8 M238.44,574.3 V582.1 M264.33,574.3 V587.8 M290.21,574.3 V582.1 M316.10,574.3 V587.8 M341.99,574.3 V582.1 M367.88,574.3 V587.8 M393.76,574.3 V582.1 M419.65,574.3 V587.8 M445.54,574.3 V582.1 M471.43,574.3 V587.8 M497.31,574.3 V582.1 M523.20,574.3 V587.8 M549.09,574.3 V582.1 M574.98,574.3 V587.8 M600.86,574.3 V582.1 M626.75,574.3 V587.8"/>
<path stroke-width="4.1" d="M67.3,10.25 H57.8 M67.3,29.05 H62.0 M67.3,47.85 H57.8 M67.3,66.65 H62.0 M67.3,85.45 H57.8 M67.3,104.25 H62.0 M67.3,123.05 H57.8 M67.3,141.85 H62.0 M67.3,160.65 H57.8 M67.3,179.45 H62.0 M67.3,198.25 H57.8 M67.3,217.05 H62.0 M67.3,235.85 H57.8 M67.3,254.65 H62.0 M67.3,273.45 H57.8 M67.3,292.25 H62.0 M67.3,311.05 H57.8 M67.3,329.85 H62.0 M67.3,348.65 H57.8 M67.3,367.45 H62.0 M67.3,386.25 H57.8 M67.3,405.05 H62.0 M67.3,423.85 H57.8 M67.3,442.65 H62.0 M67.3,461.45 H57.8 M67.3,480.25 H62.0 M67.3,499.05 H57.8 M67.3,517.85 H62.0 M67.3,536.65 H57.8 M67.3,555.45 H62.0 M67.3,574.25 H57.8"/>
<path stroke-width="4.5" d="M65.6,574.3 H628.3"/>
</g>
<g font-size="23.1" fill="#000" filter="url(#bx2)">
<text transform="translate(53.2,16.4) rotate(0.2) scale(0.678,1)" text-anchor="end">-0.5</text>
<text transform="translate(53.2,54.1) rotate(0.2) scale(0.678,1)" text-anchor="end">-1.0</text>
<text transform="translate(53.2,91.7) rotate(0.2) scale(0.678,1)" text-anchor="end">-1.5</text>
<text transform="translate(53.2,129.2) rotate(0.2) scale(0.678,1)" text-anchor="end">-2.0</text>
<text transform="translate(53.2,166.8) rotate(0.2) scale(0.678,1)" text-anchor="end">-2.5</text>
<text transform="translate(53.2,204.4) rotate(0.2) scale(0.678,1)" text-anchor="end">-3.0</text>
<text transform="translate(53.2,242.1) rotate(0.2) scale(0.678,1)" text-anchor="end">-3.5</text>
<text transform="translate(53.2,279.6) rotate(0.2) scale(0.678,1)" text-anchor="end">-4.0</text>
<text transform="translate(53.2,317.2) rotate(0.2) scale(0.678,1)" text-anchor="end">-4.5</text>
<text transform="translate(53.2,354.9) rotate(0.2) scale(0.678,1)" text-anchor="end">-5.0</text>
<text transform="translate(53.2,392.4) rotate(0.2) scale(0.678,1)" text-anchor="end">-5.5</text>
<text transform="translate(53.2,430.1) rotate(0.2) scale(0.678,1)" text-anchor="end">-6.0</text>
<text transform="translate(53.2,467.7) rotate(0.2) scale(0.678,1)" text-anchor="end">-6.5</text>
<text transform="translate(53.2,505.2) rotate(0.2) scale(0.678,1)" text-anchor="end">-7.0</text>
<text transform="translate(53.2,542.9) rotate(0.2) scale(0.678,1)" text-anchor="end">-7.5</text>
<text transform="translate(53.2,580.5) rotate(0.2) scale(0.678,1)" text-anchor="end">-8.0</text>
<text transform="translate(109.0,611.1) rotate(0.2) scale(0.678,1)" text-anchor="middle">10</text>
<text transform="translate(160.8,611.1) rotate(0.2) scale(0.678,1)" text-anchor="middle">20</text>
<text transform="translate(212.6,611.1) rotate(0.2) scale(0.678,1)" text-anchor="middle">30</text>
<text transform="translate(264.3,611.1) rotate(0.2) scale(0.678,1)" text-anchor="middle">40</text>
<text transform="translate(316.1,611.1) rotate(0.2) scale(0.678,1)" text-anchor="middle">50</text>
<text transform="translate(367.9,611.1) rotate(0.2) scale(0.678,1)" text-anchor="middle">60</text>
<text transform="translate(419.7,611.1) rotate(0.2) scale(0.678,1)" text-anchor="middle">70</text>
<text transform="translate(471.4,611.1) rotate(0.2) scale(0.678,1)" text-anchor="middle">80</text>
<text transform="translate(523.2,611.1) rotate(0.2) scale(0.678,1)" text-anchor="middle">90</text>
<text transform="translate(575.0,611.1) rotate(0.2) scale(0.678,1)" text-anchor="middle">100</text>
<text transform="translate(626.8,611.1) rotate(0.2) scale(0.678,1)" text-anchor="middle">110</text>
</g>
<text transform="translate(15.5,377.2) rotate(-90) scale(1.405,1)" font-size="19.6" fill="#000" stroke="#000" stroke-width="0.6" vector-effect="non-scaling-stroke">Heat Flow (mW)</text>
<g filter="url(#bx)">
<text transform="translate(320.1,651.1) rotate(0.1) scale(0.677,1)" font-size="29.6" fill="#000">Temperature(°C)</text>
<text transform="translate(500.3,185.1) rotate(0.1) scale(0.674,1)" font-size="29.6" fill="#000">Emulsion foam I</text>
<text transform="translate(514.8,293.3) rotate(0.1) scale(0.674,1)" font-size="29.6" fill="#f00">Emulsion foam II</text>
<text transform="translate(521.6,401.8) rotate(0.1) scale(0.674,1)" font-size="29.6" fill="#0f0">Emulsion foam III</text>
</g>
</svg></body></html>
